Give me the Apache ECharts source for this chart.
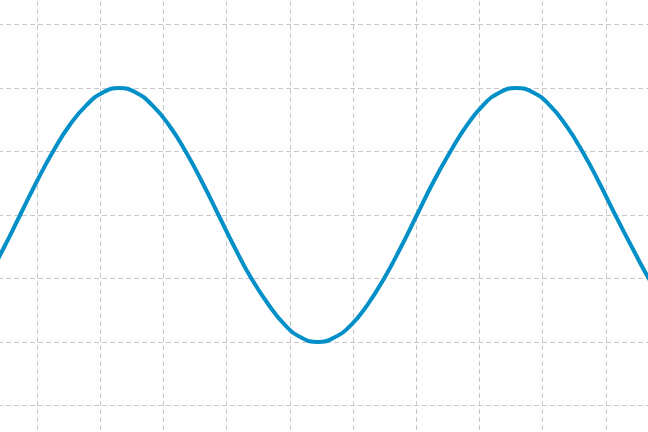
<!DOCTYPE html>
<html>
<head>
<meta charset="utf-8">
<script src="https://cdn.jsdelivr.net/npm/echarts@6/dist/echarts.min.js"></script>
<style>
  html, body { margin: 0; padding: 0; background: #fff; overflow: hidden; }
  /* grid starts off-screen so the first dashed lines land where the reference has them */
  #wave { position: absolute; left: -26.2px; top: -39.5px; width: 695.2px; height: 508px; }
</style>
</head>
<body>
<div id="wave"></div>
<script>
// x positions (grid units) and values
var xs = [-0.06, 0.21, 0.47, 0.73, 0.99, 1.25, 1.51, 1.78, 2.04, 2.30, 2.56, 2.82, 3.09, 3.35, 3.61,
          3.87, 4.13, 4.39, 4.66, 4.92, 5.18, 5.44, 5.70, 5.97, 6.23, 6.49, 6.75, 7.01, 7.27,
          7.54, 7.80, 8.06, 8.32, 8.58, 8.85, 9.11, 9.37, 9.63, 9.89, 10.15, 10.42, 10.68, 10.94, 11.20];
var ys = [-1.41, -1.00, -0.52, 0, 0.52, 1.00, 1.41, 1.73, 1.93, 2.00, 1.93, 1.73, 1.41, 1.00, 0.52,
          0, -0.52, -1.00, -1.41, -1.73, -1.93, -2.00, -1.93, -1.73, -1.41, -1.00, -0.52, 0, 0.52,
          1.00, 1.41, 1.73, 1.93, 2.00, 1.93, 1.73, 1.41, 1.00, 0.52, 0, -0.52, -1.00, -1.41, -1.73];

var chart = echarts.init(document.getElementById('wave'));
var points = xs.map(function (x, i) { return [x, ys[i]]; });

var gridLine = { show: true, lineStyle: { color: '#c8c8c8', width: 1, type: [5, 3] } };

chart.setOption({
    animation: false,
    grid: { left: 0, right: 0, top: 0, bottom: 0, containLabel: false },
    xAxis: {
        type: 'value', min: 0, max: 11, interval: 1,
        axisLine: { show: false }, axisTick: { show: false }, axisLabel: { show: false },
        splitLine: gridLine
    },
    yAxis: {
        type: 'value', min: -4, max: 4, interval: 1,
        axisLine: { show: false }, axisTick: { show: false }, axisLabel: { show: false },
        splitLine: gridLine
    },
    series: [{
        type: 'line',
        data: points,
        smooth: true,
        smoothConstraint: false,
        showSymbol: false,
        lineStyle: { color: '#008fc7', width: 4 }
    }]
});
</script>
</body>
</html>
